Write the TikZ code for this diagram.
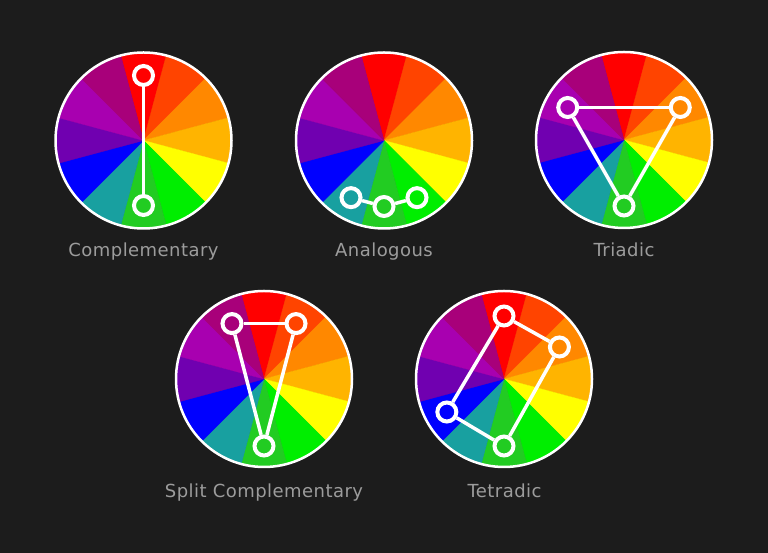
\documentclass[tikz,border=0pt]{standalone}
\usepackage{fontspec}
\newfontfamily\labelfont[LetterSpace=2.5]{DejaVu Sans}
\definecolor{bg}{HTML}{1C1C1C}
\definecolor{labelgray}{HTML}{9C9C9C}
\definecolor{cA}{HTML}{FF0000}
\definecolor{cB}{HTML}{FF4400}
\definecolor{cC}{HTML}{FF8800}
\definecolor{cD}{HTML}{FFB400}
\definecolor{cE}{HTML}{FFFF00}
\definecolor{cF}{HTML}{00EE00}
\definecolor{cG}{HTML}{22CC22}
\definecolor{cH}{HTML}{18A0A0}
\definecolor{cI}{HTML}{0000FF}
\definecolor{cJ}{HTML}{7000B0}
\definecolor{cK}{HTML}{A800B0}
\definecolor{cL}{HTML}{A8007A}
\newcommand\colorwheel[1]{%
  \foreach \a/\c in {90/cA,60/cB,30/cC,0/cD,-30/cE,-60/cF,-90/cG,-120/cH,-150/cI,180/cJ,150/cK,120/cL}{%
    \filldraw[fill=\c,draw=\c,line width=0.4pt,line join=round] (#1) -- ++(\a-15:88) arc[start angle=\a-15,end angle=\a+15,radius=88] -- cycle;}%
  \draw[wheelrim] (#1) circle[radius=88];}
\begin{document}
\begin{tikzpicture}[x=1pt,y=1pt,
  wheelrim/.style={draw=white,line width=2.5pt},
  marker/.style={circle,draw=white,line width=4pt,minimum size=19pt,inner sep=0pt},
  link/.style={draw=white,line width=3.5pt},
  caption/.style={font=\labelfont\fontsize{18}{21}\selectfont,text=labelgray,anchor=base,inner sep=0pt}]
\fill[bg] (0,0) rectangle (768,553);
\useasboundingbox (0,0) rectangle (768,553);
\coordinate (w1) at (143.5,412.5);
\coordinate (w2) at (384,412.5);
\coordinate (w3) at (624,413);
\coordinate (w4) at (264,174);
\coordinate (w5) at (504,174);
\colorwheel{w1}
\colorwheel{w2}
\colorwheel{w3}
\colorwheel{w4}
\colorwheel{w5}
% Complementary
\path (w1) ++(90:65) node[marker] (c1) {};
\path (w1) ++(-90:65) node[marker] (c2) {};
\draw[link] (c1) -- (c2);
% Analogous
\path (w2) ++(-120:66) node[marker] (a1) {};
\path (w2) ++(-90:66) node[marker] (a2) {};
\path (w2) ++(-60:66) node[marker] (a3) {};
\draw[link] (a1) -- (a2);
\draw[link] (a2) -- (a3);
% Triadic
\path (w3) ++(150:65) node[marker] (t1) {};
\path (w3) ++(30:65) node[marker] (t2) {};
\path (w3) ++(-90:66) node[marker] (t3) {};
\draw[link] (t1) -- (t2);
\draw[link] (t2) -- (t3);
\draw[link] (t3) -- (t1);
% Split complementary
\path (w4) ++(120:64) node[marker] (s1) {};
\path (w4) ++(60:64) node[marker] (s2) {};
\path (w4) ++(-90:67) node[marker] (s3) {};
\draw[link] (s1) -- (s2);
\draw[link] (s2) -- (s3);
\draw[link] (s3) -- (s1);
% Tetradic
\path (w5) ++(90:63) node[marker] (q1) {};
\path (w5) ++(30:64) node[marker] (q2) {};
\path (w5) ++(-90:67) node[marker] (q3) {};
\path (w5) ++(210:66) node[marker] (q4) {};
\draw[link] (q1) -- (q2);
\draw[link] (q2) -- (q3);
\draw[link] (q3) -- (q4);
\draw[link] (q4) -- (q1);
% captions
\node[caption] (l1) at (143.5,296) {Complementary};
\node[caption] (l2) at (384,296) {Analogous};
\node[caption] (l3) at (624,296) {Triadic};
\node[caption] (l4) at (264,55) {Split Complementary};
\node[caption] (l5) at (504.5,55) {Tetradic};
\end{tikzpicture}
\end{document}
